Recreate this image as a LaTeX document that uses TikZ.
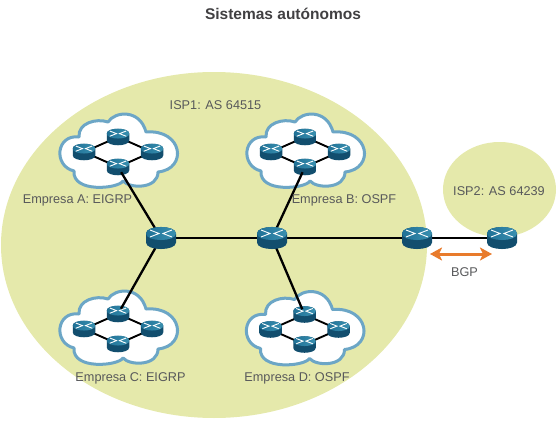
\documentclass[tikz,border=0pt]{standalone}
\usepackage{fontspec}
\setmainfont{Liberation Sans}
\usetikzlibrary{arrows.meta}
\definecolor{ispgreen}{HTML}{E5E9AB}
\definecolor{labelgray}{HTML}{58595B}
\definecolor{titlegray}{HTML}{414042}
\definecolor{bgporange}{HTML}{E87B2C}
\definecolor{routerdark}{HTML}{124E6E}
\definecolor{routermid}{HTML}{3A90B0}
\definecolor{routertop}{HTML}{1F7196}
\definecolor{cloudblue}{HTML}{6CA6C6}
\tikzset{
	routernode/.style={inner sep=0pt, minimum width=24pt, minimum height=14pt},
	smallnode/.style={inner sep=0pt, minimum width=16pt, minimum height=10pt},
	link/.style={draw=black, line width=2.3pt},
	smalllink/.style={draw=black, line width=1.9pt},
	label/.style={color=labelgray, font=\fontsize{12.7}{15}\selectfont, inner sep=0pt},
	router/.pic={
		\path[left color=routerdark, middle color=routermid, right color=routerdark]
		(-15,-4.5) -- (-15,4.5) .. controls (-15,13.2) and (15,13.2) .. (15,4.5) -- (15,-4.5)
		.. controls (15,-13.2) and (-15,-13.2) .. (-15,-4.5) -- cycle;
		\path[left color=routertop, right color=routermid]
		(-15,-4.5) .. controls (-15,-13.2) and (15,-13.2) .. (15,-4.5)
		.. controls (15,4.2) and (-15,4.2) .. (-15,-4.5) -- cycle;
		\draw[white, line width=0.9pt] (-11,-8) -- (-2,-4.5) -- (-11,-1);
		\draw[white, line width=0.9pt] (11,-8) -- (2,-4.5) -- (11,-1);
	},
	lan/.pic={
		\draw[draw=cloudblue, line width=3pt, fill=white, line join=round]
		(-44,20) .. controls (-65,15) and (-62,-17) .. (-39,-14)
		.. controls (-40,-28) and (-22,-33) .. (-10,-29)
		.. controls (-3,-40) and (22,-42) .. (28,-19)
		.. controls (65,-22) and (70,18) .. (40,21)
		.. controls (40,38) and (12,38) .. (5,30)
		.. controls (0,38) and (-46,42) .. (-44,20) -- cycle;
		\node[smallnode] (top) at (0,-14) {};
		\node[smallnode] (left) at (-34,1) {};
		\node[smallnode] (right) at (34,1) {};
		\node[smallnode] (bottom) at (0,16) {};
		\draw[smalllink] (top) -- (left);
		\draw[smalllink] (top) -- (right);
		\draw[smalllink] (bottom) -- (left);
		\draw[smalllink] (bottom) -- (right);
		\pic[scale=.75] at (top) {router};
		\pic[scale=.75] at (left) {router};
		\pic[scale=.75] at (right) {router};
		\pic[scale=.75] at (bottom) {router};
	}
}
\begin{document}
\begin{tikzpicture}[x=1pt, y=-1pt]
	\useasboundingbox (0,0) rectangle (558,434);
	% Hai vùng ISP
	\fill[ispgreen] (214,245) ellipse [x radius=213, y radius=173];
	\fill[ispgreen] (499.5,189.5) ellipse [x radius=56.5, y radius=47.5];

	% Các mạng doanh nghiệp
	\pic (lana) at (118,151) {lan};
	\pic (lanb) at (305,151) {lan};
	\pic (lanc) at (118,328) {lan};
	\pic (land) at (304.5,328.5) {lan};

	% Các router trung tâm
	\node[routernode] (hubone) at (161,238) {};
	\node[routernode] (hubtwo) at (272,238) {};
	\node[routernode] (edgeone) at (417,238) {};
	\node[routernode] (edgetwo) at (502,238) {};

	\draw[link] (hubone) -- (hubtwo);
	\draw[link] (hubtwo) -- (edgeone);
	\draw[link] (edgeone) -- (edgetwo);
	\draw[link] (hubone) -- (lanabottom);
	\draw[link] (hubone) -- (lanctop);
	\draw[link] (hubtwo) -- (lanbbottom);
	\draw[link] (hubtwo) -- (landtop);

	\pic at (hubone) {router};
	\pic at (hubtwo) {router};
	\pic at (edgeone) {router};
	\pic at (edgetwo) {router};

	% Mũi tên BGP
	\coordinate (bgpleft) at (430,254);
	\coordinate (bgpright) at (492,254);
	\draw[{Stealth[length=12pt, width=13pt, inset=3pt]}-{Stealth[length=12pt, width=13pt, inset=3pt]}, draw=bgporange, fill=bgporange, line width=3pt] (bgpleft) -- (bgpright);

	% Nhãn
	\node[font=\fontsize{15.5}{18}\selectfont\bfseries, color=titlegray, inner sep=0pt] (title) at (283,14) {Sistemas autónomos};
	\node[label] (ispone) at (215.5,105) {ISP1: AS 64515};
	\node[label] (isptwo) at (499,191) {ISP2: AS 64239};
	\node[label] (bgp) at (464.5,272) {BGP};
	\node[label] (empa) at (77.5,200.5) {Empresa A: EIGRP};
	\node[label] (empb) at (344,200.5) {Empresa B: OSPF};
	\node[label] (empc) at (130.5,378.5) {Empresa C: EIGRP};
	\node[label] (empd) at (297,378.5) {Empresa D: OSPF};
\end{tikzpicture}
\end{document}
